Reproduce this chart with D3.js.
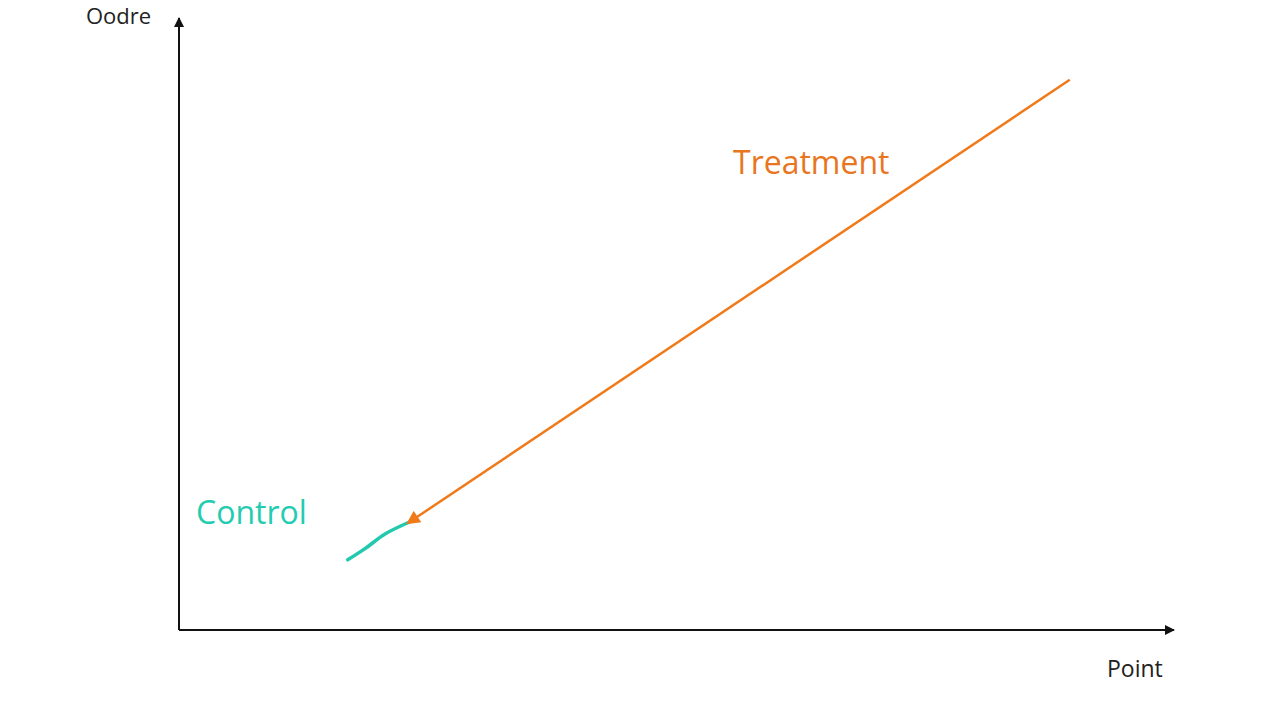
<!DOCTYPE html>
<html>
<head>
<meta charset="utf-8">
<script src="https://cdn.jsdelivr.net/npm/d3@7"></script>
<style>
  body { margin: 0; background: #fff; }
  text { font-family: "Open Sans", "Noto Sans", sans-serif; }
</style>
</head>
<body>
<script>
// series (x, y in arbitrary units 0..100)
var controlX = [17.2, 19.0, 21.0, 23.5];
var controlY = [11.7, 13.6, 16.0, 18.0];
var treatmentX = [23.5, 90.8];
var treatmentY = [18.0, 91.7];

var width = 1280, height = 720;

var svg = d3.select("body").append("svg")
    .attr("width", width)
    .attr("height", height);

var x = d3.scaleLinear().domain([0, 100]).range([179, 1160]);
var y = d3.scaleLinear().domain([0, 100]).range([630, 30]);

var defs = svg.append("defs");

defs.append("marker")
    .attr("id", "axisArrow")
    .attr("viewBox", "0 0 10 10")
    .attr("refX", 9)
    .attr("refY", 5)
    .attr("markerWidth", 6)
    .attr("markerHeight", 5)
    .attr("markerUnits", "strokeWidth")
    .attr("orient", "auto")
    .append("path")
    .attr("d", "M0,0 L10,5 L0,10 Z")
    .attr("fill", "#111");

defs.append("marker")
    .attr("id", "orangeArrow")
    .attr("viewBox", "0 0 10 10")
    .attr("refX", 7)
    .attr("refY", 5)
    .attr("markerWidth", 6)
    .attr("markerHeight", 5.5)
    .attr("markerUnits", "strokeWidth")
    .attr("orient", "auto-start-reverse")
    .append("path")
    .attr("d", "M0,0 L10,5 L0,10 Z")
    .attr("fill", "#f07a1a");

// axes
svg.append("line")
    .attr("x1", x(0)).attr("y1", y(0))
    .attr("x2", x(0)).attr("y2", 18)
    .attr("stroke", "#111")
    .attr("stroke-width", 2)
    .attr("marker-end", "url(#axisArrow)");

svg.append("line")
    .attr("x1", x(0)).attr("y1", y(0))
    .attr("x2", 1174).attr("y2", y(0))
    .attr("stroke", "#111")
    .attr("stroke-width", 2)
    .attr("marker-end", "url(#axisArrow)");

var line = d3.line()
    .x(function(d) { return x(d[0]); })
    .y(function(d) { return y(d[1]); })
    .curve(d3.curveCatmullRom);

svg.append("path")
    .datum(controlX.map(function(v, i) { return [v, controlY[i]]; }))
    .attr("d", line)
    .attr("fill", "none")
    .attr("stroke", "#22c9ae")
    .attr("stroke-width", 3.5)
    .attr("stroke-linecap", "round");

svg.append("path")
    .datum(treatmentX.map(function(v, i) { return [v, treatmentY[i]]; }))
    .attr("d", line)
    .attr("fill", "none")
    .attr("stroke", "#f07a1a")
    .attr("stroke-width", 2.5)
    .attr("marker-start", "url(#orangeArrow)");

// labels
svg.append("text")
    .attr("x", 733).attr("y", 174)
    .attr("font-size", 32)
    .attr("fill", "#e8761e")
    .text("Treatment");

svg.append("text")
    .attr("x", 196).attr("y", 524)
    .attr("font-size", 32)
    .attr("fill", "#22ccb0")
    .text("Control");

svg.append("text")
    .attr("x", 1107).attr("y", 677)
    .attr("font-size", 23)
    .attr("fill", "#222")
    .text("Point");

svg.append("text")
    .attr("x", 86).attr("y", 24)
    .attr("font-size", 22)
    .attr("fill", "#222")
    .text("Oodre");
</script>
</body>
</html>
